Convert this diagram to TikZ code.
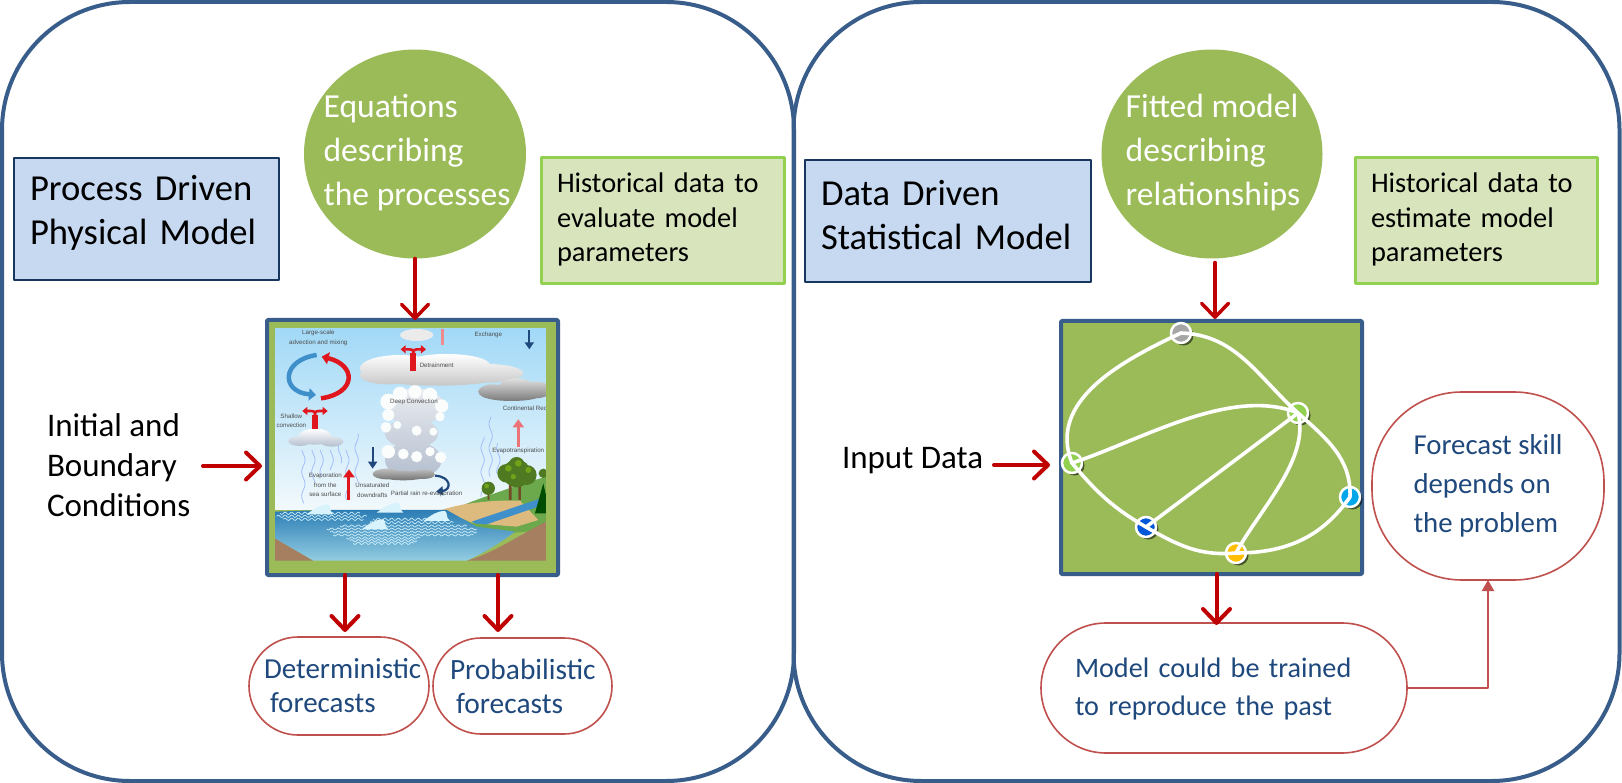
\documentclass[tikz,border=0pt]{standalone}
\usepackage{fontspec}
\setmainfont{Carlito}
\setsansfont{Liberation Sans}
\usetikzlibrary{arrows.meta,shadows,shapes.geometric}
\definecolor{panelblue}{HTML}{385D8A}
\definecolor{leafgreen}{HTML}{9BBB59}
\definecolor{titleblue}{HTML}{C6D9F1}
\definecolor{titleline}{HTML}{17375E}
\definecolor{histfill}{HTML}{D8E4BC}
\definecolor{histline}{HTML}{92D050}
\definecolor{pillred}{HTML}{C0504D}
\definecolor{inkblue}{HTML}{1F497D}
\definecolor{arrowred}{HTML}{C00000}
\definecolor{skytop}{HTML}{A2D9F7}
\definecolor{skylow}{HTML}{F2F9FC}
\definecolor{seadeep}{HTML}{2C7DB5}
\definecolor{sealight}{HTML}{93CDE2}
\definecolor{sandtan}{HTML}{DDBB7E}
\definecolor{hillgreen}{HTML}{6CA84C}
\definecolor{landbrown}{HTML}{A57F60}
\definecolor{treegreen}{HTML}{4F7A22}
\definecolor{riverblue}{HTML}{3F8FCB}
\definecolor{towergrey}{HTML}{B4BECE}
\definecolor{scenered}{HTML}{E0161E}
\tikzset{
	panel/.style={draw=panelblue, line width=4pt, rounded corners=128pt, minimum width=#1, minimum height=779pt, inner sep=0pt, outer sep=0pt},
	titlebox/.style={draw=titleline, line width=2pt, fill=titleblue, align=left, font=\fontsize{36.6}{44}\selectfont, inner xsep=16pt, inner ysep=0pt, outer sep=0pt},
	histbox/.style={draw=histline, line width=3pt, fill=histfill, align=left, font=\fontsize{28.4}{34.7}\selectfont, inner xsep=16pt, inner ysep=0pt, outer sep=0pt},
	bubble/.style={ellipse, fill=leafgreen, inner sep=0pt, outer sep=0pt},
	bubbletext/.style={text=white, align=left, font=\fontsize{33.6}{44}\selectfont, inner sep=0pt},
	framebox/.style={draw=panelblue, line width=4pt, fill=leafgreen, rounded corners=1pt, inner sep=0pt, outer sep=0pt},
	pill/.style={draw=pillred, line width=1.6pt, text=inkblue, align=left, inner ysep=0pt, outer sep=0pt},
	plainlabel/.style={align=left, inner sep=0pt, outer sep=0pt, font=\fontsize{33}{40}\selectfont},
	dot/.style={circle, minimum size=20pt, inner sep=0pt, draw=white, line width=2.5pt, drop shadow={shadow xshift=2.5pt, shadow yshift=-2.5pt, fill=black, opacity=.55}},
	edge/.style={draw=white, line width=3.6pt, line cap=round},
	bigarrow/.style={draw=arrowred, line width=4pt, line cap=round, -{Straight Barb[length=14pt,width=27pt,round]}},
	thinarrow/.style={draw=arrowred, line width=3.5pt, line cap=round, -{Straight Barb[length=14pt,width=27pt,round]}},
	stemarrow/.style={draw=pillred, line width=2pt, -{Triangle[length=11pt,width=12pt]}},
	scenetext/.style={font=\sffamily\fontsize{6.2}{7}\selectfont, text=black!70, inner sep=0pt},
	rain/.style={draw=skytop!70!blue!70, line width=.7pt},
	wave/.style={draw=white!80!cyan, line width=.7pt},
	redup/.style={draw=scenered, line width=3pt, -{Triangle[length=8pt,width=11pt]}},
	darkdown/.style={draw=inkblue, line width=2.2pt, -{Triangle[length=7pt,width=9pt]}},
}
\begin{document}
\begin{tikzpicture}[x=1pt, y=-1pt, line join=round]
	\useasboundingbox (0,0) rectangle (1622,783);
	\fill[white] (0,0) rectangle (1622,783);
	\node[panel=792pt] (procpanel) at (398,391.5) {};
	\node[panel=826pt] (datapanel) at (1206.5,391.5) {};

	\node[titlebox, minimum width=265pt, minimum height=122pt, text width=233pt, text depth=62pt] (proctitle) at (146.5,219) {Process Driven\\Physical Model};
	\node[bubble, minimum width=222pt, minimum height=209pt] (eqn) at (415,154) {};
	\node[bubbletext] (eqntext) at (417,153) {Equations\\describing\\the processes};
	\node[histbox, minimum width=243pt, minimum height=126pt, text width=211pt, text depth=77pt] (prochist) at (662.5,221) {Historical data to\\evaluate model\\parameters};
	\node[framebox, minimum width=291pt, minimum height=255pt] (procframe) at (412.5,447.5) {};
	\node[plainlabel, anchor=west] (bcond) at (47,465) {Initial and\\Boundary\\Conditions};

	\begin{scope}[xshift=260pt, yshift=-310pt, x=0.3333pt, y=-0.3333pt]
		\clip (45,57) rectangle (858,752);
		\shade[top color=skytop, bottom color=skylow] (45,57) rectangle (858,600);
		\foreach \rx/\ra/\rb in {130/420/580, 160/420/520, 185/420/500, 215/420/480, 240/400/460, 262/420/570, 290/370/520, 668/380/560, 692/320/500, 715/400/490}
			\draw[rain] plot[domain=\ra:\rb, samples=30] ({\rx+5*sin(5*\x)},\x);
		\fill[hillgreen] (550,610) .. controls (640,570) and (760,530) .. (858,500) -- (858,660) -- (620,680) -- cycle;
		\fill[sandtan] (545,600) .. controls (620,575) and (720,570) .. (780,572) -- (835,630) -- (770,650) -- (640,640) -- cycle;
		\fill[riverblue] (635,635) -- (858,560) -- (858,582) -- (660,650) -- cycle;
		\fill[hillgreen] (550,618) -- (640,640) -- (770,652) -- (690,668) -- (600,652) -- cycle;
		\fill[landbrown] (620,752) .. controls (700,730) and (770,680) .. (858,635) -- (858,752) -- cycle;
		\fill[landbrown] (45,685) -- (160,752) -- (45,752) -- cycle;
		\shade[top color=seadeep, bottom color=sealight] (45,605) -- (200,600) -- (560,600) -- (650,650) -- (765,665) .. controls (720,700) and (670,730) .. (620,752) -- (160,752) -- (45,685) -- cycle;
		\foreach \wy/\wa/\wb in {610/60/300, 619/50/320, 628/70/310, 628/340/560, 638/330/580, 648/240/620, 657/200/650, 666/210/650, 675/220/640, 684/260/480, 692/270/470, 700/280/460}
			\draw[wave] plot[domain=\wa:\wb, samples=80] (\x,{\wy+3.5*sin(18*\x)});
		\foreach \wx/\wy in {190/605, 400/600, 355/650, 540/625}
			\fill[white!85!cyan] (\wx-50,\wy+8) .. controls (\wx-25,\wy-10) and (\wx-10,\wy-22) .. (\wx+15,\wy-22) .. controls (\wx+25,\wy-15) and (\wx+15,\wy-5) .. (\wx+30,\wy+8) -- cycle;
		\fill[brown!60!black] (747,520) rectangle (755,570) (775,520) rectangle (783,570) (683,550) rectangle (688,570);
		\foreach \cx/\cy/\cr in {770/490/42, 740/490/28, 800/495/30, 770/465/24, 685/535/20, 850/490/14}
			\fill[treegreen] (\cx,\cy) circle (\cr);
		\foreach \cx/\cy/\cr in {745/475/10, 775/460/10, 805/480/9, 760/500/8, 680/528/7}
			\fill[treegreen!70!lime] (\cx,\cy) circle (\cr);
		\fill[green!30!black] (850,520) -- (870,610) -- (825,610) -- cycle;
		\shade[top color=towergrey!30!white, bottom color=towergrey] (465,290) ellipse (88 and 55) (455,370) ellipse (80 and 45) (460,450) ellipse (85 and 55);
		\foreach \cx/\cy/\cr in {385/275/24, 420/252/22, 465/245/20, 510/255/22, 545/288/20, 385/315/18, 540/320/14, 378/352/16, 412/345/12, 470/362/15, 520/365/12, 385/425/20, 430/432/16, 470/440/17, 510/425/14, 542/442/17}
			\fill[white!95!towergrey] (\cx,\cy) circle (\cr);
		\shade[top color=black!25, bottom color=black!55] (380,492) ellipse (42 and 16) (430,497) ellipse (70 and 14) (490,493) ellipse (35 and 14);
		\shade[top color=white, bottom color=black!22] (420,175) ellipse (120 and 40) (560,165) ellipse (130 and 33) (680,190) ellipse (110 and 28) (380,195) ellipse (80 and 28) (530,205) ellipse (180 and 22);
		\shade[top color=black!12, bottom color=black!52] (700,245) ellipse (45 and 22) (770,235) ellipse (55 and 30) (825,240) ellipse (50 and 25) (755,257) ellipse (85 and 16);
		\shade[top color=white, bottom color=towergrey] (120,393) ellipse (35 and 15) (165,380) ellipse (50 and 24) (215,395) ellipse (35 and 15);
		\fill[white!92!black] (470,75) ellipse (50 and 18);
		\draw[draw=scenered, line width=4.5pt, -{Triangle[length=7pt,width=12pt]}] (183,265) .. controls (290,250) and (290,165) .. (185,140);
		\draw[draw=riverblue, line width=4.5pt, -{Triangle[length=7pt,width=12pt]}] (170,135) .. controls (65,150) and (60,245) .. (168,255);
		\foreach \tx/\ty/\tz in {460/118/184, 165/303/357} {
			\draw[redup, -, line width=6pt] (\tx,\tz) -- (\tx,\ty+12);
			\draw[redup, line width=2.6pt, -{Triangle[length=5pt,width=8pt]}] (\tx,\ty+15) .. controls (\tx,\ty) .. (\tx-38,\ty);
			\draw[redup, line width=2.6pt, -{Triangle[length=5pt,width=8pt]}] (\tx,\ty+15) .. controls (\tx,\ty) .. (\tx+38,\ty);
		}
		\draw[redup] (267,570) -- (267,478);
		\draw[redup, draw=scenered!60!white] (775,410) -- (775,328);
		\draw[draw=scenered!50!white, line width=3pt] (548,57) -- (548,105);
		\draw[darkdown] (808,60) -- (808,118);
		\draw[darkdown] (338,412) -- (338,476);
		\draw[darkdown] (525,497) .. controls (575,500) and (575,540) .. (528,545);
		\node[scenetext] (lsa) at (175,68) {Large-scale};
		\node[scenetext] (lsb) at (175,98) {advection and mixing};
		\node[scenetext] (det) at (530,165) {Detrainment};
		\node[scenetext] (exch) at (685,76) {Exchange};
		\node[scenetext] (sha) at (94,318) {Shallow};
		\node[scenetext] (shb) at (94,346) {convection};
		\node[scenetext] (deep) at (462,277) {Deep Convection};
		\node[scenetext, anchor=west] (recy) at (728,298) {Continental Recy};
		\node[scenetext] (evt) at (775,423) {Evapotranspiration};
		\node[scenetext] (eva) at (196,497) {Evaporation};
		\node[scenetext] (evb) at (196,525) {from the};
		\node[scenetext] (evc) at (196,553) {sea surface};
		\node[scenetext] (una) at (337,527) {Unsaturated};
		\node[scenetext] (unb) at (337,555) {downdrafts};
		\node[scenetext] (par) at (500,552) {Partial rain re-evaporation};
	\end{scope}

	\node[pill, rectangle, rounded corners=49pt, font=\fontsize{29}{34}\selectfont, minimum width=180pt, minimum height=98pt, inner xsep=15pt, text width=150pt] (detfc) at (339,686) {Deterministic\\\hspace*{6pt}forecasts};
	\node[pill, rectangle, rounded corners=48pt, font=\fontsize{29.4}{34}\selectfont, minimum width=179pt, minimum height=96pt, inner xsep=17pt, text width=145pt] (probfc) at (522.5,686) {Probabilistic\\\hspace*{6pt}forecasts};
	\coordinate (detin) at (345,632);
	\coordinate (probin) at (498,632);
	\coordinate (bcout) at (203,466);
	\draw[thinarrow] (eqn.south) -- (eqn.south |- procframe.north);
	\draw[bigarrow] (detin |- procframe.south) -- (detin);
	\draw[bigarrow] (probin |- procframe.south) -- (probin);
	\draw[bigarrow, shorten >=5pt] (bcout) -- (bcout -| procframe.west);

	\node[titlebox, minimum width=286pt, minimum height=122pt, text width=254pt, text depth=57pt] (datatitle) at (948,221) {Data Driven\\Statistical Model};
	\node[bubble, minimum width=221pt, minimum height=209pt] (fit) at (1212,154) {};
	\node[bubbletext] (fittext) at (1213,153) {Fitted model\\describing\\relationships};
	\node[histbox, minimum width=242pt, minimum height=126pt, text width=210pt, text depth=77pt] (datahist) at (1476,221) {Historical data to\\estimate model\\parameters};
	\node[framebox, minimum width=301pt, minimum height=253pt] (dataframe) at (1211.5,447.5) {};
	\node[plainlabel, anchor=west] (input) at (842,461) {Input Data};

	\node[dot, fill=black!35] (ngrey) at (1181,333) {};
	\node[dot, fill=histline] (ntop) at (1298,413) {};
	\node[dot, fill=histline] (nleft) at (1072,463) {};
	\node[dot, fill=blue!60!cyan!85!black] (nblue) at (1146,527) {};
	\node[dot, fill=orange!50!yellow] (nyellow) at (1236,553) {};
	\node[dot, fill=cyan!95!blue] (ncyan) at (1350,497) {};
	\draw[edge] (ngrey.center) to[out=-2, in=138] (ntop.center) to[out=-42, in=88] (ncyan.center);
	\draw[edge] (ncyan.center) to[out=-125, in=0] (nyellow.center) to[out=185, in=-30] (nblue.center);
	\draw[edge] (nblue.center) to[out=150, in=-50] (nleft.center);
	\draw[edge] (nleft.center) to[out=112, in=205] (ngrey.center);
	\draw[edge] (nleft.center) to[out=18, in=158, looseness=.8] (ntop.center);
	\draw[edge] (nblue.center) -- (ntop.center);
	\draw[edge] (nyellow.center) to[out=62, in=-75, looseness=.8] (ntop.center);

	\node[pill, rectangle, rounded corners=65pt, font=\fontsize{28.2}{38}\selectfont, minimum width=366pt, minimum height=130pt, inner xsep=34pt, text width=298pt, text height=21pt] (train) at (1224,688) {Model could be trained\\to reproduce the past};
	\node[pill, rectangle, rounded corners=90pt, font=\fontsize{28.8}{39}\selectfont, minimum width=232pt, minimum height=188pt] (skill) at (1488,486) {Forecast skill\\depends on\\the problem};
	\coordinate (dataout) at (1216.5,625);
	\coordinate (inputout) at (994,465);
	\draw[thinarrow] ([xshift=3pt, yshift=-4pt]fit.south) -- ([xshift=3pt, yshift=2pt]fit.south |- dataframe.north);
	\draw[bigarrow] (dataout |- dataframe.south) -- (dataout);
	\draw[bigarrow, shorten >=11pt] (inputout) -- (inputout -| dataframe.west);
	\draw[stemarrow] (train.east) -| (skill.south);
\end{tikzpicture}
\end{document}
